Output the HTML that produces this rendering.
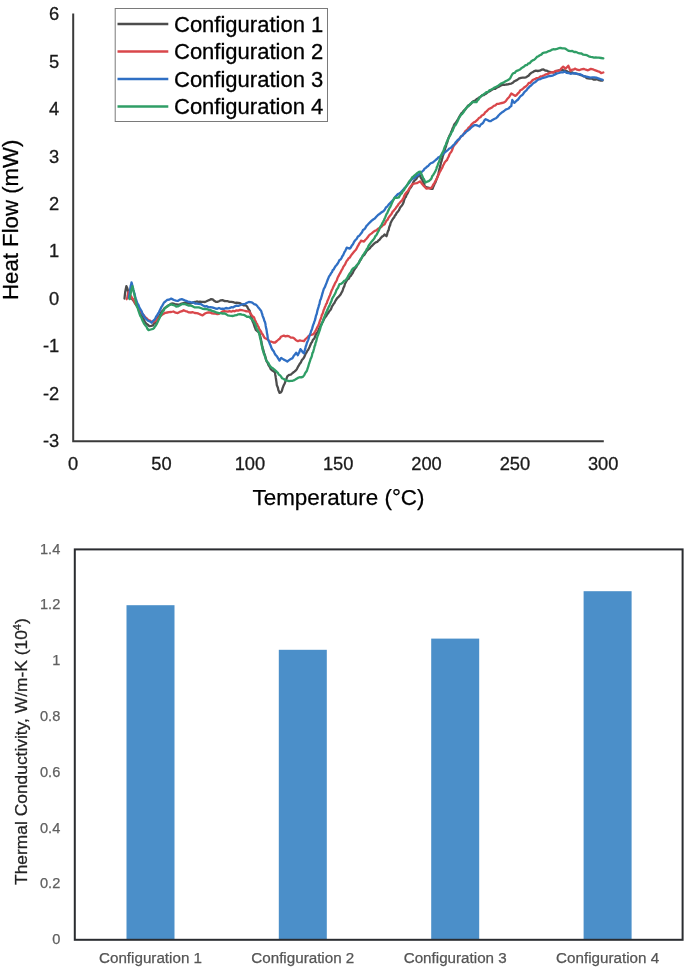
<!DOCTYPE html>
<html><head><meta charset="utf-8"><title>Charts</title>
<style>
html,body{margin:0;padding:0;background:#fff;}
body{width:685px;height:968px;overflow:hidden;}
svg{display:block;}
text{font-family:"Liberation Sans", Arial, sans-serif;}
</style></head><body>
<svg width="685" height="968" viewBox="0 0 685 968">
<rect width="685" height="968" fill="#fff"/>

<path d="M73.2 13.5V441.3H603.8" fill="none" stroke="#3a3a3a" stroke-width="2"/>
<text x="59.2" y="20.3" font-size="18.3" text-anchor="end" fill="#1a1a1a" stroke="#1a1a1a" stroke-width="0.3">6</text>
<text x="59.2" y="67.7" font-size="18.3" text-anchor="end" fill="#1a1a1a" stroke="#1a1a1a" stroke-width="0.3">5</text>
<text x="59.2" y="115.1" font-size="18.3" text-anchor="end" fill="#1a1a1a" stroke="#1a1a1a" stroke-width="0.3">4</text>
<text x="59.2" y="162.5" font-size="18.3" text-anchor="end" fill="#1a1a1a" stroke="#1a1a1a" stroke-width="0.3">3</text>
<text x="59.2" y="209.9" font-size="18.3" text-anchor="end" fill="#1a1a1a" stroke="#1a1a1a" stroke-width="0.3">2</text>
<text x="59.2" y="257.3" font-size="18.3" text-anchor="end" fill="#1a1a1a" stroke="#1a1a1a" stroke-width="0.3">1</text>
<text x="59.2" y="304.7" font-size="18.3" text-anchor="end" fill="#1a1a1a" stroke="#1a1a1a" stroke-width="0.3">0</text>
<text x="59.2" y="352.1" font-size="18.3" text-anchor="end" fill="#1a1a1a" stroke="#1a1a1a" stroke-width="0.3">-1</text>
<text x="59.2" y="399.5" font-size="18.3" text-anchor="end" fill="#1a1a1a" stroke="#1a1a1a" stroke-width="0.3">-2</text>
<text x="59.2" y="446.9" font-size="18.3" text-anchor="end" fill="#1a1a1a" stroke="#1a1a1a" stroke-width="0.3">-3</text>
<text x="73.2" y="470.2" font-size="18.3" text-anchor="middle" fill="#1a1a1a" stroke="#1a1a1a" stroke-width="0.3">0</text>
<text x="161.5" y="470.2" font-size="18.3" text-anchor="middle" fill="#1a1a1a" stroke="#1a1a1a" stroke-width="0.3">50</text>
<text x="249.9" y="470.2" font-size="18.3" text-anchor="middle" fill="#1a1a1a" stroke="#1a1a1a" stroke-width="0.3">100</text>
<text x="338.2" y="470.2" font-size="18.3" text-anchor="middle" fill="#1a1a1a" stroke="#1a1a1a" stroke-width="0.3">150</text>
<text x="426.5" y="470.2" font-size="18.3" text-anchor="middle" fill="#1a1a1a" stroke="#1a1a1a" stroke-width="0.3">200</text>
<text x="514.9" y="470.2" font-size="18.3" text-anchor="middle" fill="#1a1a1a" stroke="#1a1a1a" stroke-width="0.3">250</text>
<text x="603.2" y="470.2" font-size="18.3" text-anchor="middle" fill="#1a1a1a" stroke="#1a1a1a" stroke-width="0.3">300</text>
<text transform="translate(18.1,219.8) rotate(-90) scale(0.97,1)" font-size="22.9" text-anchor="middle" fill="#000" stroke="#000" stroke-width="0.3">Heat Flow (mW)</text>
<text x="338.5" y="504.8" font-size="22.4" text-anchor="middle" fill="#000" stroke="#000" stroke-width="0.25">Temperature (°C)</text>
<polyline points="124.5,298.5 124.7,296.5 124.8,295.6 125.0,293.9 125.2,291.9 125.6,290.0 126.0,287.9 126.4,286.1 127.3,288.1 127.7,289.5 128.1,291.7 128.5,293.9 128.8,295.1 129.2,297.1 129.6,298.3 131.8,298.5 132.9,300.2 134.0,301.3 135.0,303.4 136.0,304.9 137.0,305.8 137.8,307.0 138.5,309.0 139.2,311.0 140.0,311.9 140.8,313.3 141.5,315.2 142.2,316.4 143.0,318.4 144.0,320.1 145.0,321.8 146.0,323.4 147.7,324.6 149.3,326.1 151.2,325.8 153.0,325.4 154.0,323.5 155.0,322.9 156.0,321.0 157.0,319.5 158.0,317.3 159.0,316.2 160.0,314.9 161.0,312.6 162.0,311.4 163.3,310.0 164.6,308.1 166.3,307.2 168.0,305.5 169.6,304.9 171.2,303.6 173.1,303.5 175.0,304.0 178.0,304.7 179.9,304.4 181.7,303.5 183.6,303.0 185.8,302.7 188.0,303.4 190.0,303.6 192.0,303.0 193.6,302.1 195.2,302.0 196.8,301.5 198.4,301.8 200.0,301.7 201.7,301.8 203.3,301.9 205.0,302.0 206.5,301.3 208.1,300.5 209.6,299.9 211.1,299.1 212.7,299.4 214.2,300.8 215.8,301.8 217.3,301.9 219.0,301.2 220.8,300.3 222.5,300.1 224.3,301.0 226.0,301.1 227.8,301.2 229.5,301.9 231.3,301.8 233.1,302.1 234.8,302.8 236.6,302.7 238.3,302.8 240.0,303.2 241.8,304.3 243.5,305.4 245.3,305.1 247.0,306.4 247.9,308.1 248.8,309.7 249.7,310.8 250.1,312.6 250.6,313.9 251.0,315.6 251.4,317.0 251.9,318.2 252.3,320.5 252.9,322.0 253.5,323.2 254.1,325.1 254.6,326.7 255.2,328.1 255.8,329.8 257.6,331.3 259.3,332.7 259.7,334.3 260.0,335.7 260.4,336.8 260.7,338.6 261.1,340.1 261.4,342.1 261.8,344.0 262.1,345.5 262.4,347.1 262.8,348.4 263.3,349.8 263.8,352.2 264.3,353.8 264.8,354.9 265.3,356.6 265.8,358.3 266.3,360.7 267.0,361.8 267.8,363.1 268.5,365.1 269.2,366.2 270.0,367.4 270.7,369.2 272.2,370.5 273.6,371.3 275.1,372.8 275.3,374.9 275.6,376.3 275.8,377.9 276.1,379.8 276.3,381.1 276.6,383.2 276.8,385.1 277.3,386.3 277.9,387.8 278.4,390.3 279.0,391.4 279.5,392.9 281.2,392.1 281.9,390.7 282.6,388.1 283.3,386.3 284.0,384.8 284.7,383.5 285.4,381.3 286.0,380.1 286.6,378.3 287.3,376.4 289.1,374.9 290.8,374.6 292.6,373.0 294.4,371.6 296.1,370.1 297.0,368.8 297.9,367.0 298.7,365.7 299.6,364.0 300.8,362.5 301.9,360.1 303.1,358.7 304.0,357.6 304.8,355.7 305.7,353.5 306.5,352.6 307.4,350.6 308.2,349.9 309.0,348.1 309.8,346.4 310.5,344.7 311.2,343.0 312.0,342.2 312.9,339.9 313.7,339.2 314.6,337.8 315.4,335.8 316.2,333.8 317.1,332.8 317.9,331.6 318.7,329.8 319.4,328.0 320.2,326.4 321.0,324.9 321.8,323.2 322.6,322.3 323.4,320.5 324.2,318.8 325.0,317.5 326.1,316.3 327.1,314.4 328.2,313.1 329.2,311.3 330.3,310.2 331.1,308.9 332.0,306.4 332.9,305.1 333.7,303.7 334.5,302.9 335.4,300.9 336.4,299.3 337.5,297.8 338.5,296.9 339.5,295.7 340.6,294.4 341.6,292.5 342.3,291.3 343.0,289.4 343.6,287.5 344.3,286.3 345.0,283.8 345.7,282.5 346.7,280.6 347.7,279.3 348.8,278.8 349.8,276.6 350.8,275.9 351.8,274.2 352.7,273.1 353.5,271.1 354.4,269.7 355.3,268.1 356.2,267.3 357.0,265.6 357.9,264.2 358.8,263.1 359.7,260.9 360.6,260.0 361.5,258.1 362.5,256.7 363.4,255.4 364.3,254.9 365.2,253.5 366.1,251.9 367.3,250.4 368.5,249.4 369.8,248.4 371.0,246.7 372.2,245.6 373.4,244.3 374.7,243.1 375.9,242.3 377.2,241.9 378.4,240.5 379.6,239.7 380.8,238.0 382.1,236.6 383.3,235.9 384.5,234.5 386.5,236.2 387.0,234.9 387.5,232.6 388.0,231.0 388.6,230.2 389.1,227.6 389.6,226.1 390.1,225.3 390.6,223.1 391.5,221.2 392.3,219.8 393.2,218.4 394.1,217.5 395.0,215.4 395.8,214.8 396.7,212.8 397.7,211.9 398.8,210.4 399.8,208.2 400.8,206.7 401.9,205.5 402.9,203.8 403.6,202.2 404.3,199.5 405.0,197.8 405.8,197.0 406.6,194.7 407.5,193.5 408.3,191.8 409.1,190.1 409.9,188.3 410.7,187.7 411.6,186.2 412.4,184.7 413.2,182.4 414.2,180.9 415.2,180.0 416.2,179.1 417.3,177.2 418.3,176.1 419.3,174.6 420.1,175.8 420.8,177.6 421.6,178.9 422.4,180.3 423.1,181.7 423.9,183.4 424.6,185.7 425.4,186.7 427.2,187.4 429.0,187.9 430.8,188.8 432.6,188.8 433.2,187.0 433.9,185.5 434.5,184.0 435.1,183.0 435.8,181.5 436.4,179.4 437.1,177.9 437.7,176.5 438.1,175.0 438.5,173.5 438.9,171.5 439.3,169.7 439.7,168.4 440.1,166.6 440.4,165.6 440.8,163.5 441.2,161.9 441.6,161.0 442.0,159.0 442.4,158.0 442.8,156.1 443.3,154.9 443.8,152.4 444.3,151.2 444.8,149.9 445.4,147.4 445.9,146.8 446.4,144.3 446.9,143.3 447.4,141.9 447.9,139.8 448.6,137.9 449.3,136.1 449.9,134.9 450.6,133.8 451.3,131.5 452.0,130.6 452.6,128.2 453.3,127.4 454.0,125.2 454.9,123.7 455.8,122.9 456.7,121.4 457.5,120.0 458.4,118.5 459.3,116.9 460.2,115.3 461.4,113.4 462.6,112.2 463.9,110.5 465.1,109.7 466.3,108.1 467.5,106.5 468.7,105.1 470.0,104.8 471.2,103.5 472.4,101.9 473.8,101.1 475.1,100.6 476.5,99.3 477.9,98.4 479.2,97.5 480.6,96.7 482.1,95.4 483.5,95.2 485.0,94.1 486.4,93.4 487.9,92.0 489.3,91.4 490.8,90.5 492.3,89.5 493.7,88.9 495.2,88.8 496.7,87.6 498.2,86.9 499.6,86.4 501.1,85.4 502.8,84.6 504.5,84.9 506.2,84.5 507.9,84.3 509.6,83.8 511.3,83.6 512.9,82.7 514.5,81.2 516.2,80.4 517.8,79.4 519.4,78.3 521.0,77.9 522.7,77.7 524.3,77.6 526.0,77.3 527.6,76.3 528.8,75.5 530.1,73.8 531.3,72.8 532.6,72.3 533.8,71.4 535.8,70.6 537.8,71.0 539.8,70.7 541.6,69.7 543.5,69.5 545.2,70.5 546.9,70.7 548.6,71.7 550.8,72.2 553.0,72.3 554.9,72.0 556.9,71.3 558.8,70.3 560.5,70.3 562.3,70.0 564.0,70.4 566.0,70.9 568.0,71.9 570.0,72.6 572.0,72.3 574.0,73.4 576.0,73.6 578.0,74.0 580.0,74.8 582.0,75.4 583.5,76.4 585.0,76.3 586.5,78.1 588.0,78.3 589.8,78.6 591.6,78.5 593.5,79.5 595.3,79.5 597.1,79.2 599.0,80.2 600.8,80.5 602.6,80.5" fill="none" stroke="#4d4d4d" stroke-width="2.3" stroke-linejoin="round" stroke-linecap="round"/>
<polyline points="126.7,299.2 127.2,297.9 127.6,296.1 128.1,293.3 128.5,291.8 129.8,294.4 131.0,296.1 132.0,297.9 133.0,299.1 134.0,301.0 135.0,302.6 136.0,304.1 137.0,305.3 138.0,306.9 139.0,308.4 140.0,310.1 141.3,312.4 142.7,314.0 144.1,315.7 145.5,317.5 147.1,318.7 148.6,320.2 150.1,320.6 151.5,321.8 153.0,322.4 154.5,321.4 156.0,320.7 157.5,319.0 159.0,317.5 160.5,316.0 162.0,314.8 163.7,313.8 165.4,312.8 167.2,312.5 169.0,312.2 171.2,312.0 173.4,311.5 175.6,312.7 177.8,313.1 180.5,311.6 182.1,311.2 183.6,310.2 185.3,311.1 187.0,311.4 188.9,312.4 190.9,312.5 192.9,312.2 194.8,313.0 196.8,313.1 198.7,313.7 200.7,314.6 202.6,315.3 205.0,313.5 206.7,312.8 208.4,312.4 210.2,312.5 212.0,313.4 213.8,313.5 215.6,313.7 217.3,314.2 219.0,313.8 220.8,312.6 222.5,311.5 224.3,311.2 226.0,311.3 227.8,311.7 229.5,311.1 231.3,311.7 233.0,310.9 234.8,311.3 236.5,310.3 238.3,310.6 240.0,309.9 241.8,310.1 243.5,310.5 245.3,311.0 247.0,311.3 248.8,311.4 249.9,312.4 250.9,314.0 252.0,315.7 253.0,316.6 254.1,317.5 254.8,319.7 255.6,321.2 256.3,323.0 257.1,323.9 257.8,326.1 258.6,327.0 259.3,329.2 260.2,330.3 261.1,331.7 262.0,333.9 262.8,334.5 263.7,336.4 264.6,338.0 266.3,338.7 268.1,339.8 269.8,341.5 271.6,341.7 273.3,342.5 275.1,342.5 276.9,341.0 278.6,339.5 279.8,338.6 280.9,336.8 282.1,336.3 283.8,335.6 285.6,336.4 287.3,335.9 289.1,336.4 290.8,337.6 292.6,337.6 294.4,338.6 296.1,340.3 297.9,341.2 299.4,340.4 301.0,340.7 304.0,341.1 305.1,339.5 306.2,338.5 307.3,337.5 308.4,336.2 310.1,335.1 311.9,334.7 313.6,334.1 314.4,332.7 315.1,331.6 315.9,330.1 316.6,328.7 317.4,327.1 318.1,325.7 318.9,323.9 319.5,322.1 320.1,320.2 320.7,319.0 321.3,317.0 321.8,315.1 322.4,313.9 323.0,312.7 323.6,310.2 324.2,309.0 324.8,307.3 325.5,305.9 326.1,304.0 326.8,303.4 327.4,301.0 328.0,299.9 328.7,298.1 329.3,296.5 330.0,295.2 330.7,293.1 331.3,291.4 332.0,289.8 332.7,288.4 333.4,286.7 334.0,285.7 334.7,284.0 335.4,282.6 336.2,281.3 336.9,279.9 337.7,277.5 338.5,276.2 339.3,274.4 340.1,273.3 340.8,271.8 341.6,270.2 342.5,268.9 343.3,266.9 344.2,265.6 345.1,264.3 346.0,262.3 346.8,260.8 347.7,259.9 348.7,258.2 349.8,257.6 350.8,255.8 351.8,254.4 352.8,253.2 353.8,252.0 354.9,250.7 355.9,249.7 356.8,248.1 357.6,246.4 358.4,245.3 359.3,243.3 360.1,242.5 361.0,240.7 364.0,241.6 365.2,240.0 366.5,238.7 367.7,237.3 369.0,235.3 370.2,234.4 371.7,233.4 373.2,232.0 374.8,230.9 376.3,230.4 377.7,229.1 379.0,228.3 380.4,227.7 381.8,226.4 383.1,225.0 384.5,224.4 385.5,222.5 386.5,220.6 387.6,219.8 388.6,217.6 389.6,216.3 390.6,215.1 391.6,213.8 392.6,211.7 393.6,210.8 394.7,209.4 395.7,208.2 396.7,206.7 397.7,205.6 398.8,203.7 399.8,202.7 400.8,201.5 401.9,200.8 402.9,198.8 403.6,197.8 404.3,195.7 405.0,194.5 406.0,193.0 407.1,191.7 408.1,190.7 409.1,188.9 410.1,187.3 411.1,185.9 412.2,184.5 413.2,183.8 415.0,183.3 416.8,183.1 418.5,182.3 420.3,181.4 421.5,183.2 422.8,184.8 424.0,186.2 425.3,187.4 426.5,188.7 428.2,188.4 429.9,188.4 431.6,187.6 432.5,186.1 433.3,184.5 434.2,183.4 435.1,181.6 436.0,180.2 436.8,178.5 437.7,176.4 438.5,174.7 439.2,173.4 440.0,171.6 440.8,170.3 441.5,169.0 442.3,167.7 443.0,165.8 443.8,164.3 444.8,162.2 445.9,161.0 446.9,160.2 447.9,157.9 448.7,156.5 449.4,154.5 450.2,153.0 450.9,152.4 451.7,151.0 452.5,149.0 453.2,146.9 454.0,145.7 455.0,144.2 456.1,143.3 457.1,141.9 458.1,140.3 459.2,139.1 460.2,137.5 461.4,136.3 462.6,135.3 463.9,133.7 465.1,131.5 466.3,130.5 467.5,129.3 468.7,127.4 470.0,126.7 471.2,124.8 472.4,123.5 473.8,122.3 475.1,121.9 476.5,120.6 477.9,119.3 479.2,117.8 480.6,117.2 481.8,115.5 482.9,115.0 484.1,114.1 485.3,112.2 486.5,111.4 487.6,110.2 488.8,109.0 490.2,108.4 491.5,107.8 492.9,106.7 494.3,105.6 495.6,105.3 497.0,103.8 498.6,103.8 500.2,103.3 501.9,103.0 503.5,102.7 505.1,101.8 506.1,100.7 507.2,99.1 508.2,98.0 509.2,97.0 510.3,95.2 511.3,93.5 513.4,94.7 515.4,95.9 516.6,95.0 517.8,93.5 519.1,92.4 520.3,90.3 521.5,89.8 523.0,88.6 524.5,87.2 526.1,86.2 527.6,84.7 528.8,83.0 530.1,82.8 531.3,81.7 532.6,80.1 533.8,79.5 535.3,78.9 536.9,78.1 538.7,77.8 540.5,76.4 542.4,76.1 544.2,75.3 546.0,74.3 547.9,73.9 549.7,73.0 551.5,72.2 553.3,72.5 555.1,71.1 557.0,70.7 558.8,70.9 560.3,69.8 561.7,68.1 563.2,66.6 565.4,68.7 566.8,67.4 568.3,65.7 569.0,67.2 569.8,69.2 570.5,70.7 572.0,69.7 573.4,69.7 574.9,68.6 577.0,69.7 579.2,70.2 581.4,69.3 583.6,68.8 585.8,69.7 588.0,70.3 590.9,68.9 592.9,69.3 594.8,70.2 596.8,70.9 598.2,71.4 599.7,71.8 601.1,73.1 603.3,72.5" fill="none" stroke="#d9474b" stroke-width="2.3" stroke-linejoin="round" stroke-linecap="round"/>
<polyline points="128.9,297.7 129.2,295.7 129.4,294.3 129.7,292.3 129.9,290.9 130.2,289.1 130.5,286.9 130.8,285.2 131.2,284.4 131.5,282.3 132.0,284.0 132.5,286.7 133.0,288.0 133.4,290.0 133.8,291.2 134.2,293.0 134.6,294.0 135.0,296.1 135.6,298.4 136.3,300.1 136.9,302.2 137.7,303.9 138.4,304.8 139.2,307.2 140.0,308.5 140.8,309.9 141.7,311.3 142.5,313.8 143.4,315.0 144.2,316.8 145.5,318.4 146.7,319.5 148.0,320.7 149.8,321.4 151.5,322.7 152.8,321.2 154.0,320.2 155.1,318.9 156.2,316.4 157.3,315.1 158.1,313.4 158.9,312.7 159.7,310.5 160.5,309.1 161.3,307.2 162.2,305.9 163.1,304.2 163.9,302.7 165.4,301.5 167.0,300.0 169.1,299.7 171.2,298.6 174.0,300.0 175.9,300.6 177.8,300.9 180.0,299.6 181.8,299.2 183.6,299.8 185.5,300.7 188.0,301.6 190.0,302.0 192.0,302.6 193.6,302.5 195.2,303.6 196.8,303.6 198.7,303.8 200.7,304.1 202.6,305.2 205.0,306.5 206.8,306.2 208.5,307.3 210.3,307.2 212.0,307.3 213.8,307.9 215.5,308.5 217.3,308.8 219.0,308.0 220.8,308.8 222.5,308.7 224.3,308.8 226.0,308.0 227.8,308.3 229.5,308.1 231.3,307.2 233.0,307.4 234.8,306.3 236.5,305.7 238.3,305.9 240.0,305.2 241.8,304.5 243.5,304.1 245.3,303.8 247.1,302.7 248.8,302.0 250.6,302.1 252.3,302.6 254.1,304.1 255.8,304.7 256.9,305.6 257.9,306.9 259.0,308.2 260.0,309.6 261.1,310.7 261.6,312.4 262.2,314.1 262.7,316.1 263.2,317.3 263.8,318.8 264.3,320.8 264.9,321.9 265.4,323.7 265.7,325.9 265.9,327.0 266.2,328.6 266.5,329.6 266.8,331.6 267.0,333.4 267.3,334.3 267.6,336.6 267.8,338.2 268.1,339.4 268.7,341.2 269.4,342.6 270.0,344.3 270.6,345.4 271.2,347.3 271.9,348.9 272.5,349.9 273.6,351.1 274.6,353.3 275.7,355.2 276.8,356.1 277.7,357.6 278.6,359.2 279.5,360.5 281.2,357.9 283.8,359.6 285.6,360.5 287.3,361.5 289.1,360.1 290.8,359.0 292.6,358.1 293.8,355.7 294.9,354.5 296.1,352.8 297.9,355.2 298.5,353.5 299.2,352.6 299.9,350.4 300.5,349.1 301.7,350.6 302.8,352.4 304.0,353.4 304.4,351.7 304.9,349.9 305.3,348.7 305.7,346.6 306.2,345.5 306.8,343.2 307.4,341.8 307.9,340.6 308.4,339.3 309.0,337.3 309.6,335.5 310.1,334.1 310.6,332.8 311.2,330.8 311.7,329.9 312.2,328.4 312.8,326.1 313.3,324.6 313.8,323.6 314.3,321.8 314.9,320.4 315.4,318.4 315.8,316.4 316.3,314.9 316.8,313.8 317.2,311.5 317.6,309.9 318.1,308.3 318.6,306.6 319.0,305.0 319.5,303.9 319.9,301.4 320.4,299.7 320.9,299.1 321.3,297.4 321.8,295.9 322.3,293.7 322.7,292.7 323.2,290.8 323.9,288.7 324.6,287.7 325.2,286.2 325.9,284.4 326.6,282.7 327.3,280.8 327.9,279.3 328.6,277.6 329.3,276.1 330.2,274.9 331.0,273.2 331.9,272.3 332.8,270.0 333.7,269.5 334.5,267.8 335.4,266.3 336.4,265.2 337.5,263.8 338.5,262.1 339.5,260.1 340.6,259.5 341.6,257.8 342.3,256.2 343.1,255.2 343.8,253.6 344.5,252.0 345.2,251.1 346.0,249.3 346.7,247.6 349.7,248.6 350.7,247.6 351.8,245.6 352.8,244.4 353.8,242.4 354.9,240.7 355.9,239.5 356.9,238.6 357.9,236.6 358.9,236.0 359.9,234.9 361.0,233.5 362.0,232.2 363.0,230.0 364.0,229.4 365.2,228.3 366.5,225.9 367.7,224.7 369.0,223.3 370.2,222.1 371.7,220.7 373.2,219.5 374.8,218.6 376.3,216.8 377.8,215.2 379.4,214.0 380.9,212.8 382.4,211.7 383.6,211.1 384.7,209.7 385.9,207.5 387.1,206.6 388.3,205.1 389.4,203.8 390.6,202.6 391.8,201.4 393.0,199.9 394.3,198.2 395.5,196.6 396.7,195.4 397.9,194.1 399.2,193.5 400.4,192.7 401.7,191.3 402.9,190.2 403.9,188.8 404.9,187.7 405.9,186.7 406.9,185.6 408.0,183.9 409.0,183.1 410.0,181.6 411.0,180.2 412.4,179.0 413.7,178.2 415.1,177.4 416.5,176.0 417.8,175.3 419.2,174.1 420.6,172.6 422.0,171.7 423.4,170.5 424.6,168.7 425.8,167.8 427.1,166.6 428.3,165.9 429.5,164.4 431.1,163.0 432.6,162.6 434.1,161.4 435.7,160.0 437.1,158.9 438.4,157.3 439.8,156.9 441.1,155.5 442.4,154.6 443.8,153.1 445.2,152.2 446.5,151.2 447.9,150.0 449.3,148.5 450.6,148.0 452.0,146.7 453.2,145.2 454.3,144.6 455.5,142.5 456.7,141.2 457.9,139.9 459.0,139.4 460.2,137.6 461.4,135.9 462.6,135.6 463.9,133.6 465.1,133.1 466.3,131.6 467.8,130.6 469.4,129.4 470.9,127.8 472.4,126.5 474.2,125.2 476.0,125.1 477.8,125.7 479.6,126.5 480.8,124.5 482.0,123.8 483.3,122.6 484.5,120.2 485.7,119.2 487.4,120.0 489.1,121.0 490.8,121.2 492.5,119.9 494.2,119.0 495.9,118.3 497.2,117.2 498.5,115.5 499.8,114.2 501.1,113.1 502.6,111.9 504.1,111.0 505.7,109.6 507.2,109.0 508.6,108.5 509.9,106.9 511.3,106.1 511.6,103.6 512.0,102.1 512.3,100.0 513.3,101.6 514.3,102.9 515.6,101.6 516.8,100.5 518.1,99.5 519.4,97.6 520.6,96.1 521.7,95.5 522.9,94.4 524.0,92.6 525.2,91.3 526.4,90.4 527.6,88.6 528.7,87.6 529.9,86.3 531.1,85.5 532.5,84.0 534.0,82.7 535.5,81.9 536.9,80.6 538.7,79.4 540.5,79.1 542.4,78.1 544.2,77.6 546.0,77.1 547.9,76.4 549.7,76.0 551.5,75.8 553.3,75.3 555.1,74.4 557.0,73.5 558.8,73.0 560.7,72.4 562.7,72.4 564.6,71.4 566.6,72.9 568.5,73.0 570.5,73.8 572.7,73.4 574.9,73.2 576.8,73.9 578.8,74.1 580.7,74.5 582.6,75.5 584.6,76.4 586.5,76.7 588.5,77.2 590.4,77.7 592.4,77.4 594.3,77.4 596.3,77.6 598.2,78.3 600.4,79.1 602.6,79.8" fill="none" stroke="#2f6fc4" stroke-width="2.3" stroke-linejoin="round" stroke-linecap="round"/>
<polyline points="129.6,299.2 129.9,297.1 130.3,295.2 130.7,293.7 131.0,291.8 131.5,289.5 132.0,287.9 132.5,286.2 132.9,288.1 133.2,289.8 133.6,290.9 134.0,293.0 134.4,294.4 134.7,296.0 135.1,297.6 135.4,299.4 135.8,301.9 136.2,303.5 136.5,305.1 136.9,306.6 137.5,307.7 138.1,309.5 138.7,311.4 139.3,313.1 139.9,314.8 140.5,316.2 141.2,317.1 142.0,319.3 142.7,321.0 143.5,322.4 144.2,323.9 145.3,325.4 146.4,326.5 147.5,328.9 148.6,330.1 150.8,329.5 153.0,328.9 154.0,328.1 155.0,326.4 156.0,325.2 156.9,323.6 157.9,321.4 158.8,319.6 159.7,317.8 160.6,315.8 161.5,313.9 162.5,312.0 163.6,310.8 164.6,308.5 166.3,306.9 168.0,306.1 169.6,304.9 171.2,304.3 172.8,304.9 174.5,305.4 176.2,306.5 177.8,306.4 180.5,305.0 182.1,304.1 183.6,304.0 185.3,304.2 187.0,304.9 188.9,305.7 190.9,305.7 192.9,306.4 194.8,307.4 196.8,307.3 198.7,307.4 200.7,308.0 202.6,308.8 205.0,309.0 206.8,309.1 208.5,309.8 210.3,310.1 212.0,310.9 213.8,311.3 215.5,312.1 217.3,312.7 219.0,313.1 220.8,313.2 222.5,313.5 224.3,313.3 226.0,314.1 227.8,315.4 229.5,315.7 231.3,315.9 233.0,316.0 234.8,315.4 236.5,315.2 238.3,314.3 240.0,314.1 241.8,314.7 243.5,314.8 245.3,315.6 247.0,316.8 248.8,316.7 250.1,317.6 251.4,318.9 252.8,320.3 254.1,322.1 254.8,323.4 255.4,324.8 256.1,326.2 256.7,328.7 257.4,329.6 258.0,330.9 258.7,332.3 259.3,334.1 259.7,335.5 260.0,337.7 260.4,338.7 260.7,340.1 261.1,342.2 261.4,343.5 261.8,345.9 262.1,346.5 262.4,348.6 262.8,350.2 263.4,351.8 264.0,354.1 264.6,355.3 265.1,356.8 265.7,358.8 266.3,360.4 267.4,361.9 268.4,363.1 269.5,365.2 270.5,366.6 271.6,367.6 272.9,368.2 274.2,369.5 275.5,370.6 276.8,371.9 277.9,372.9 278.9,374.8 280.0,375.3 281.0,376.4 282.1,378.3 283.8,379.0 285.6,380.4 287.3,380.7 289.1,381.1 290.8,380.9 292.6,380.8 294.4,380.1 296.1,379.0 297.9,377.9 299.6,377.2 301.4,377.4 303.1,376.6 304.3,375.1 305.4,372.7 306.6,371.2 307.2,369.7 307.8,367.8 308.4,366.2 308.9,364.1 309.5,362.5 310.1,360.7 310.7,358.6 311.3,357.6 311.9,355.9 312.4,353.1 313.0,352.4 313.6,350.3 314.1,348.5 314.6,346.1 315.1,345.3 315.6,342.7 316.1,341.8 316.6,339.7 317.1,337.6 317.7,335.7 318.3,334.4 318.9,332.6 319.4,331.1 320.0,329.5 320.6,327.2 321.2,325.2 321.7,324.7 322.2,322.2 322.8,321.6 323.4,319.2 323.9,318.4 324.4,316.8 325.0,315.2 325.8,313.4 326.5,312.1 327.3,309.9 328.0,308.7 328.7,306.9 329.3,306.0 330.0,304.4 330.7,302.6 331.4,301.2 332.0,299.1 332.7,297.7 333.4,296.7 334.2,295.2 334.9,294.0 335.7,292.2 336.4,290.2 337.2,288.9 338.0,287.8 338.7,286.0 339.5,284.2 341.1,283.8 342.6,282.8 344.1,280.9 345.7,280.4 346.6,278.8 347.4,277.8 348.3,275.8 349.2,274.2 350.1,273.0 350.9,272.1 351.8,269.9 353.0,268.5 354.2,267.8 355.5,266.9 356.7,265.2 357.9,264.0 358.8,262.9 359.6,261.4 360.5,259.2 361.4,258.6 362.3,256.4 363.1,255.0 364.0,253.9 364.9,252.3 365.8,251.2 366.7,249.1 367.5,248.4 368.4,246.2 369.3,244.7 370.2,243.6 371.2,242.1 372.2,240.9 373.2,239.9 374.3,238.4 375.3,236.2 376.3,235.3 377.1,233.9 377.8,232.3 378.6,231.0 379.4,229.2 380.1,227.2 380.9,225.9 381.6,225.0 382.4,223.0 383.1,221.9 383.8,220.7 384.5,218.8 385.2,217.4 385.8,215.9 386.5,214.1 387.2,213.3 387.9,211.3 388.6,210.1 389.4,208.1 390.1,207.2 390.9,205.6 391.6,203.9 392.4,202.1 393.2,200.3 393.9,199.4 394.7,197.5 396.8,197.8 398.8,197.4 399.8,195.6 400.8,194.1 401.9,193.3 402.9,191.1 403.9,190.4 404.9,188.3 405.9,187.0 406.9,185.2 407.9,183.9 409.0,181.8 410.0,180.6 411.0,179.4 412.1,177.5 413.2,176.6 414.6,175.3 416.0,174.2 417.5,172.9 418.9,171.9 420.3,171.6 421.0,173.4 421.8,174.9 422.5,176.5 423.2,178.3 423.9,179.0 424.7,181.1 425.4,182.6 427.1,181.7 428.8,181.1 430.5,179.7 431.4,178.6 432.2,176.1 433.1,175.2 434.0,173.7 434.8,172.2 435.7,170.5 436.3,169.1 436.9,166.9 437.5,166.0 438.1,163.7 438.8,162.3 439.4,161.0 440.0,159.1 440.6,157.1 441.2,155.3 441.8,153.9 442.5,152.6 443.2,151.4 443.8,149.7 444.5,147.5 445.2,145.9 445.9,144.8 446.5,142.6 447.2,141.2 447.9,139.5 448.7,137.8 449.4,136.7 450.2,135.3 450.9,133.7 451.7,131.9 452.5,131.0 453.2,129.1 454.0,127.2 454.8,125.5 455.6,125.1 456.3,123.7 457.1,122.3 457.9,120.5 458.6,118.8 459.4,117.2 460.2,116.1 461.2,114.5 462.2,113.9 463.2,112.5 464.3,111.0 465.3,109.0 466.3,107.9 467.5,106.6 468.7,106.1 470.0,104.0 471.2,103.4 472.4,102.0 474.4,102.0 476.5,102.1 477.5,100.4 478.6,99.4 479.6,97.7 480.6,96.6 482.1,95.3 483.5,94.5 485.0,93.3 486.4,92.2 487.9,92.2 489.3,90.4 490.8,89.8 492.3,89.0 493.7,88.1 495.2,87.2 496.7,86.6 498.2,85.7 499.6,84.6 501.1,83.5 502.7,82.9 504.3,82.1 506.0,81.1 507.6,80.2 509.2,79.2 510.2,78.3 511.2,76.3 512.3,74.3 513.3,73.2 514.7,72.9 516.0,71.3 517.4,70.6 518.8,70.1 520.1,69.4 521.5,68.1 522.9,67.2 524.2,66.4 525.6,65.1 527.0,65.2 528.3,63.4 529.7,63.3 531.1,61.5 532.6,60.3 534.0,59.8 535.5,58.6 536.9,56.9 538.4,56.2 539.8,55.2 541.3,54.6 542.7,53.1 544.2,52.7 546.0,52.4 547.9,51.4 549.7,50.9 551.5,49.9 553.3,49.2 555.1,49.3 557.0,48.9 558.8,48.2 560.5,47.8 562.2,48.3 563.9,48.4 565.5,48.7 567.2,49.9 568.9,50.9 570.5,51.2 572.3,51.0 574.1,52.0 576.0,52.0 577.8,52.8 579.6,53.3 581.5,53.5 583.3,54.7 585.1,54.9 586.9,55.2 588.8,56.3 590.6,56.9 592.4,57.2 594.0,57.6 595.6,57.5 597.3,57.7 598.9,57.7 601.1,58.0 603.3,58.4" fill="none" stroke="#2f9e66" stroke-width="2.3" stroke-linejoin="round" stroke-linecap="round"/>
<rect x="115.2" y="8.5" width="212.3" height="113" fill="#fff" stroke="#7a7a7a" stroke-width="1"/>
<line x1="117.5" x2="168.3" y1="24.0" y2="24.0" stroke="#4d4d4d" stroke-width="2.5"/>
<text x="174" y="31.8" font-size="22" fill="#000" stroke="#000" stroke-width="0.3">Configuration 1</text>
<line x1="117.5" x2="168.3" y1="51.5" y2="51.5" stroke="#d9474b" stroke-width="2.5"/>
<text x="174" y="59.3" font-size="22" fill="#000" stroke="#000" stroke-width="0.3">Configuration 2</text>
<line x1="117.5" x2="168.3" y1="79.0" y2="79.0" stroke="#2f6fc4" stroke-width="2.5"/>
<text x="174" y="86.8" font-size="22" fill="#000" stroke="#000" stroke-width="0.3">Configuration 3</text>
<line x1="117.5" x2="168.3" y1="106.5" y2="106.5" stroke="#2f9e66" stroke-width="2.5"/>
<text x="174" y="114.3" font-size="22" fill="#000" stroke="#000" stroke-width="0.3">Configuration 4</text>
<rect x="126.5" y="605.2" width="48" height="334.6" fill="#4b8fc9"/>
<text x="150.5" y="962.8" font-size="15.2" text-anchor="middle" fill="#555" stroke="#555" stroke-width="0.25">Configuration 1</text>
<rect x="278.8" y="649.8" width="48" height="290.0" fill="#4b8fc9"/>
<text x="302.8" y="962.8" font-size="15.2" text-anchor="middle" fill="#555" stroke="#555" stroke-width="0.25">Configuration 2</text>
<rect x="431.2" y="638.6" width="48" height="301.2" fill="#4b8fc9"/>
<text x="455.2" y="962.8" font-size="15.2" text-anchor="middle" fill="#555" stroke="#555" stroke-width="0.25">Configuration 3</text>
<rect x="583.6" y="591.2" width="48" height="348.6" fill="#4b8fc9"/>
<text x="607.6" y="962.8" font-size="15.2" text-anchor="middle" fill="#555" stroke="#555" stroke-width="0.25">Configuration 4</text>
<rect x="74.8" y="549.4" width="607.8" height="390.4" fill="none" stroke="#2a2c30" stroke-width="2"/>
<text x="60.3" y="944.0" font-size="14.6" text-anchor="end" fill="#606060" stroke="#606060" stroke-width="0.25">0</text>
<text x="60.3" y="888.2" font-size="14.6" text-anchor="end" fill="#606060" stroke="#606060" stroke-width="0.25">0.2</text>
<text x="60.3" y="832.5" font-size="14.6" text-anchor="end" fill="#606060" stroke="#606060" stroke-width="0.25">0.4</text>
<text x="60.3" y="776.7" font-size="14.6" text-anchor="end" fill="#606060" stroke="#606060" stroke-width="0.25">0.6</text>
<text x="60.3" y="720.9" font-size="14.6" text-anchor="end" fill="#606060" stroke="#606060" stroke-width="0.25">0.8</text>
<text x="60.3" y="665.1" font-size="14.6" text-anchor="end" fill="#606060" stroke="#606060" stroke-width="0.25">1</text>
<text x="60.3" y="609.4" font-size="14.6" text-anchor="end" fill="#606060" stroke="#606060" stroke-width="0.25">1.2</text>
<text x="60.3" y="553.6" font-size="14.6" text-anchor="end" fill="#606060" stroke="#606060" stroke-width="0.25">1.4</text>
<text transform="translate(27,751.6) rotate(-90)" font-size="17.4" text-anchor="middle" fill="#222" stroke="#222" stroke-width="0.25">Thermal Conductivity, W/m-K (10<tspan font-size="11" dy="-6.3">4</tspan><tspan dy="6.3">)</tspan></text>
</svg></body></html>
